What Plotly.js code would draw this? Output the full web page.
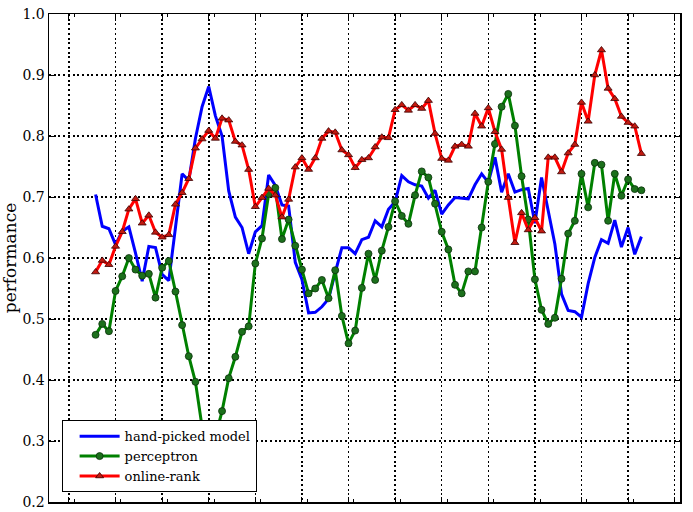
<!DOCTYPE html>
<html>
<head>
<meta charset="utf-8">
<script src="https://cdn.plot.ly/plotly-3.0.1.min.js"></script>
<style>html,body{margin:0;padding:0;background:#fff;}#chart{width:693px;height:512px;}</style>
</head>
<body>
<div id="chart"></div>
<script>
// day index of each sample (grid line every 7 days)
var firstDay = 4;
var handPicked = [0.704,0.652,0.648,0.622,0.644,0.651,0.608,0.562,0.619,0.617,0.573,0.563,0.650,0.738,0.727,0.796,0.848,0.881,0.833,0.800,0.710,
  0.667,0.650,0.607,0.643,0.653,0.736,0.719,0.687,0.685,0.593,0.565,0.510,0.511,0.520,0.533,0.576,0.617,0.617,0.607,0.630,
  0.634,0.661,0.651,0.680,0.692,0.735,0.725,0.720,0.718,0.698,0.711,0.672,0.687,0.699,0.698,0.697,0.720,0.738,0.724,0.765,
  0.708,0.738,0.708,0.712,0.714,0.657,0.732,0.678,0.623,0.541,0.514,0.512,0.503,0.558,0.601,0.630,0.624,0.662,0.618,0.650,0.606,0.635];
var perceptron = [0.474,0.492,0.480,0.546,0.570,0.600,0.581,0.571,0.574,0.535,0.584,0.595,0.545,0.490,0.439,0.397,0.323,0.290,0.307,0.349,0.403,
  0.438,0.479,0.488,0.591,0.632,0.705,0.715,0.631,0.663,0.620,0.581,0.542,0.550,0.564,0.534,0.580,0.505,0.460,0.481,0.551,
  0.607,0.564,0.612,0.651,0.693,0.669,0.656,0.703,0.742,0.732,0.689,0.643,0.614,0.556,0.542,0.578,0.578,0.650,0.725,0.787,
  0.848,0.869,0.817,0.734,0.663,0.565,0.515,0.492,0.502,0.566,0.640,0.661,0.738,0.683,0.756,0.753,0.661,0.738,0.702,0.729,0.713,0.711];
var onlineRank = [0.577,0.596,0.589,0.619,0.643,0.680,0.697,0.657,0.670,0.642,0.634,0.638,0.688,0.707,0.730,0.780,0.795,0.809,0.796,0.829,0.826,
  0.791,0.785,0.745,0.684,0.699,0.714,0.703,0.667,0.696,0.749,0.764,0.745,0.764,0.796,0.808,0.806,0.777,0.769,0.748,0.761,
  0.764,0.782,0.798,0.797,0.843,0.851,0.842,0.851,0.845,0.858,0.804,0.763,0.760,0.783,0.786,0.783,0.837,0.816,0.846,0.807,
  0.778,0.699,0.625,0.674,0.646,0.666,0.644,0.765,0.765,0.741,0.772,0.786,0.855,0.824,0.900,0.941,0.878,0.861,0.832,0.822,0.816,0.771];
var seriesNames = ['hand-picked model', 'perceptron', 'online-rank'];
var yTicks = [0.2,0.3,0.4,0.5,0.6,0.7,0.8,0.9,1.0];

var days = handPicked.map(function(_, k){ return firstDay + k; });
var serif = 'DejaVu Serif';

var traces = [
  {x: days, y: handPicked, name: seriesNames[0], type: 'scatter', mode: 'lines',
   line: {color: '#0000ff', width: 3}},
  {x: days, y: perceptron, name: seriesNames[1], type: 'scatter', mode: 'lines+markers',
   line: {color: '#008000', width: 3},
   marker: {symbol: 'circle', size: 7, color: '#1c701c', line: {color: '#0a300a', width: 0.8}}},
  {x: days, y: onlineRank, name: seriesNames[2], type: 'scatter', mode: 'lines+markers',
   line: {color: '#ff0000', width: 3},
   marker: {symbol: 'triangle-up', size: 7, color: '#c21a10', line: {color: '#3a0000', width: 0.8}}}
];

var layout = {
  width: 693, height: 512,
  margin: {l: 49, r: 13, t: 14, b: 10, pad: 0},
  paper_bgcolor: '#fff', plot_bgcolor: '#fff',
  showlegend: true,
  legend: {x: 0.02, y: 0.02, xanchor: 'left', yanchor: 'bottom',
    bgcolor: '#fff', bordercolor: '#000', borderwidth: 1,
    font: {family: serif, size: 13, color: '#000'}, tracegroupgap: 0, itemwidth: 40,
    indentation: 12},
  xaxis: {range: [-3, 91.8], showticklabels: false, zeroline: false,
    showline: true, linecolor: '#000', linewidth: 1.5, mirror: 'allticks',
    ticks: 'inside', tick0: 0, dtick: 7, ticklen: 5, tickcolor: '#000', tickwidth: 1,
    showgrid: true, gridcolor: '#000', gridwidth: 1.5, griddash: '2px,2.7px',
    minor: {tick0: 0.8, dtick: 7, ticks: 'inside', ticklen: 3, tickcolor: '#000', showgrid: false}},
  yaxis: {range: [0.2, 1.0], tickvals: yTicks, ticktext: yTicks.map(function(v){return v.toFixed(1);}),
    zeroline: false, showline: true, linecolor: '#000', linewidth: 1.5, mirror: 'allticks',
    ticks: 'inside', ticklen: 5, tickcolor: '#000', tickwidth: 1,
    showgrid: true, gridcolor: '#000', gridwidth: 1.5, griddash: '2px,2.7px',
    tickfont: {family: serif, size: 14, color: '#000'},
    title: {text: 'performance', font: {family: serif, size: 17, color: '#000'}, standoff: 6}}
};

Plotly.newPlot('chart', traces, layout, {staticPlot: true, displayModeBar: false});
</script>
</body>
</html>
